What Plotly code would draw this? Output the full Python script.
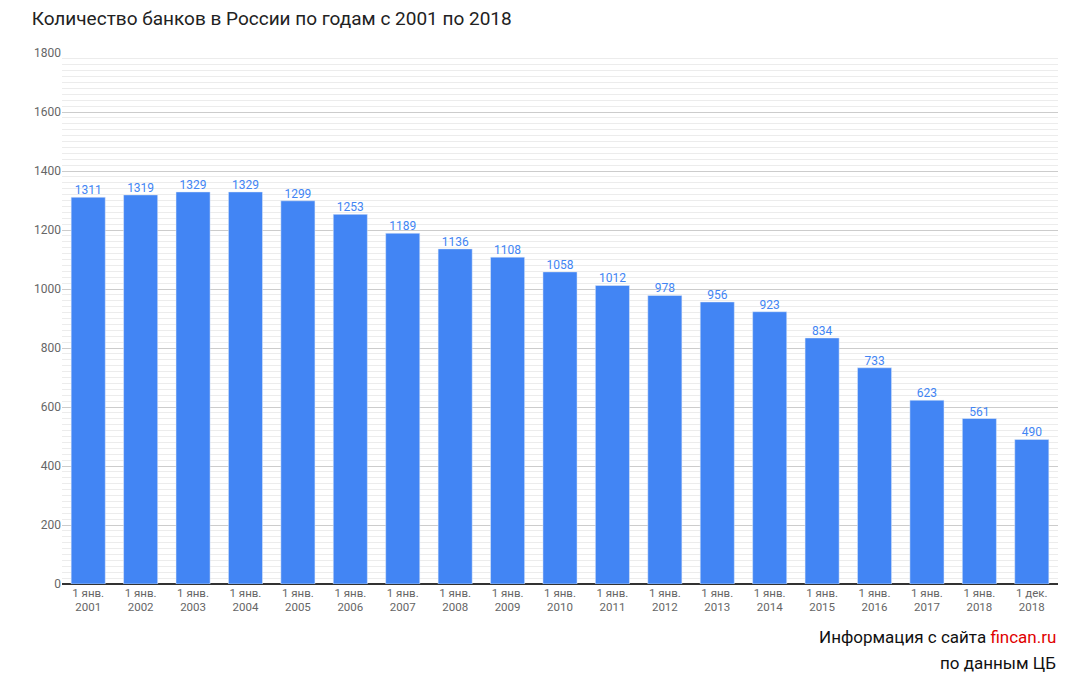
import plotly.graph_objects as go

years = [str(y) for y in range(2001, 2019)]
prefixes = ["1 янв."] * 18 + ["1 дек."]
years = years + ["2018"]
labels = [f"{p}<br>{y}" for p, y in zip(prefixes, years)]
banks = [1311, 1319, 1329, 1329, 1299, 1253, 1189, 1136, 1108, 1058,
         1012, 978, 956, 923, 834, 733, 623, 561, 490]

fig = go.Figure(go.Bar(
    x=list(range(len(banks))), y=banks, marker_color="#4285f4",
    hovertext=labels,
))
# value labels, a bit above the bars
fig.add_trace(go.Scatter(
    x=list(range(len(banks))), y=banks, mode="text", text=banks,
    textposition="top center", textfont=dict(color="#4285f4", size=12),
    cliponaxis=False, hoverinfo="skip",
))
fig.update_layout(
    width=1077, height=672, plot_bgcolor="white", paper_bgcolor="white",
    font=dict(family="Roboto", color="#555"),
    title=dict(text="Количество банков в России по годам с 2001 по 2018",
               x=0.022, y=0.985, yanchor="middle", font=dict(size=19, color="#222")),
    margin=dict(l=54, r=27, t=45, b=96),
    bargap=0.35, showlegend=False,
)
fig.update_yaxes(range=[0, 1800], dtick=200, gridcolor="#cccccc",
                 tickfont=dict(size=12, color="#666"), zeroline=True,
                 zerolinecolor="#333",
                 minor=dict(dtick=20, showgrid=True, gridcolor="#ececec"))
fig.update_xaxes(tickmode="array", tickvals=list(range(len(banks))), ticktext=labels,
                 range=[-0.5, len(banks) - 0.5],
                 tickfont=dict(size=11.5, color="#666"))
fig.add_annotation(text="Информация с сайта <span style='color:#e00000'>fincan.ru</span>",
                   xref="paper", yref="paper", x=1.0, y=-0.10, xanchor="right",
                   yanchor="middle", showarrow=False, font=dict(size=17, color="#111"))
fig.add_annotation(text="по данным ЦБ", xref="paper", yref="paper", x=1.0, y=-0.149,
                   xanchor="right", yanchor="middle", showarrow=False,
                   font=dict(size=17, color="#111"))
fig.write_html("out.html")
